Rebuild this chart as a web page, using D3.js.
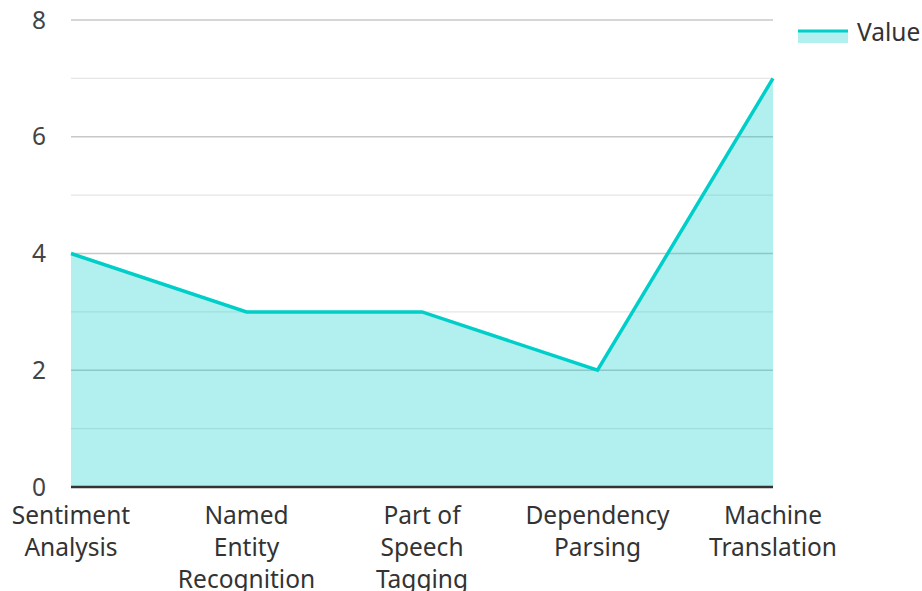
<!DOCTYPE html>
<html><head><meta charset="utf-8">
<script src="https://cdn.jsdelivr.net/npm/d3@7/dist/d3.min.js"></script>
<style>body{margin:0;background:#fff}svg{display:block}text{font-family:"Noto Sans",sans-serif}</style>
</head><body><svg id="c" width="922" height="591"></svg>
<script>
const categories = ["Sentiment Analysis","Named Entity Recognition","Part of Speech Tagging","Dependency Parsing","Machine Translation"];
const values = [4,3,3,2,7];
const yTicks = [0,2,4,6,8];
const minorTicks = [1,3,5,7];
const seriesName = "Value";

const svg = d3.select("#c");
const m = {l:71, r:149, t:20, b:104};
const W = 922, H = 591;
const FS = 24.5;
const x = d3.scalePoint().domain(categories).range([m.l, W-m.r]).padding(0);
const y = d3.scaleLinear().domain([0,8]).range([H-m.b, m.t]);
const color = "#00CEC9";
const data = categories.map((c,i)=>({c, v: values[i]}));

// grid
svg.append("g").selectAll("line").data(minorTicks).join("line")
  .attr("x1", m.l).attr("x2", W-m.r).attr("y1", d=>y(d)).attr("y2", d=>y(d))
  .attr("stroke", "#e6e6e6").attr("stroke-width", 1.2);
svg.append("g").selectAll("line").data(yTicks.filter(d=>d>0)).join("line")
  .attr("x1", m.l).attr("x2", W-m.r).attr("y1", d=>y(d)).attr("y2", d=>y(d))
  .attr("stroke", "#c8c8c8").attr("stroke-width", 1.4);

// area
svg.append("path").datum(data)
  .attr("d", d3.area().x(d=>x(d.c)).y0(y(0)).y1(d=>y(d.v)))
  .attr("fill", color).attr("fill-opacity", 0.3);
svg.append("path").datum(data)
  .attr("d", d3.line().x(d=>x(d.c)).y(d=>y(d.v)))
  .attr("fill", "none").attr("stroke", color).attr("stroke-width", 3.5).attr("stroke-linejoin","miter");

// x axis line
svg.append("line").attr("x1", m.l).attr("x2", W-m.r).attr("y1", y(0)).attr("y2", y(0))
  .attr("stroke", "#333").attr("stroke-width", 2.5);

// y labels
svg.append("g").selectAll("text").data(yTicks).join("text")
  .attr("x", 46).attr("y", d=>y(d)).attr("dy","0.35em").attr("text-anchor","end")
  .attr("font-size", FS).attr("fill","#444").text(d=>d);

// x labels with wrapping
function wrapWords(s, maxW, fs){
  const ctx = document.createElement("canvas").getContext("2d");
  ctx.font = fs + 'px "Noto Sans"';
  const words = s.split(" "); const lines=[]; let cur="";
  words.forEach(w=>{
    const t = cur ? cur+" "+w : w;
    if (cur && ctx.measureText(t).width > maxW){ lines.push(cur); cur=w; } else cur=t;
  });
  if(cur) lines.push(cur);
  return lines;
}
const xl = svg.append("g");
categories.forEach(c=>{
  const lines = wrapWords(c, 115, FS);
  const t = xl.append("text").attr("text-anchor","middle").attr("font-size",FS).attr("fill","#333");
  lines.forEach((ln,i)=>t.append("tspan").attr("x", x(c)).attr("y", 524 + i*32).text(ln));
});

// legend
const lg = svg.append("g");
lg.append("rect").attr("x",798).attr("y",30).attr("width",50).attr("height",13).attr("fill",color).attr("fill-opacity",0.3);
lg.append("line").attr("x1",798).attr("x2",848).attr("y1",31).attr("y2",31).attr("stroke",color).attr("stroke-width",3);
lg.append("text").attr("x",857).attr("y",32).attr("dy","0.35em").attr("font-size",FS).attr("fill","#333").text(seriesName);
</script></body></html>
